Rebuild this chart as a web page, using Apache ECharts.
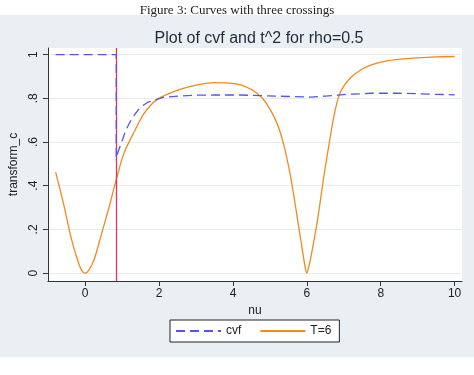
<!DOCTYPE html>
<html>
<head>
<meta charset="utf-8">
<script src="https://cdn.jsdelivr.net/npm/echarts@6/dist/echarts.min.js"></script>
<style>html,body{margin:0;padding:0;background:#fff}#c{width:474px;height:375px}</style>
</head>
<body>
<div id="c"></div>
<script>
const xTicks = [0, 2, 4, 6, 8, 10];
const yTicks = [0, 0.2, 0.4, 0.6, 0.8, 1];
const cutoffNu = 0.84;

const nuT6 = [-0.8, -0.57, -0.39, -0.21, -0.1, 0, 0.1, 0.24, 0.42, 0.65, 0.84, 1.05, 1.33, 1.6, 1.96, 2.59, 3.0, 3.5, 4.21, 4.75, 5.11, 5.34, 5.56, 5.75, 5.92, 5.96, 6.0, 6.05, 6.1, 6.29, 6.46, 6.65, 6.76, 6.87, 7.0, 7.19, 7.28, 7.5, 7.73, 8.1, 8.54, 9.0, 9.5, 10.0];
const valT6 = [0.462, 0.305, 0.167, 0.061, 0.014, 0.0, 0.014, 0.061, 0.167, 0.305, 0.428, 0.549, 0.648, 0.732, 0.796, 0.842, 0.86, 0.872, 0.861, 0.808, 0.716, 0.61, 0.442, 0.244, 0.061, 0.022, 0.0, 0.028, 0.065, 0.244, 0.442, 0.64, 0.74, 0.812, 0.856, 0.895, 0.908, 0.934, 0.952, 0.969, 0.979, 0.985, 0.989, 0.991];

const nuCvf = [-0.8, 0.84, 0.84, 0.9, 1.01, 1.1, 1.24, 1.35, 1.51, 1.7, 1.96, 2.14, 2.59, 3.0, 3.5, 4.21, 4.75, 5.56, 6.1, 6.5, 7.0, 7.73, 8.5, 9.0, 9.5, 10.0];
const valCvf = [1, 1, 0.526, 0.56, 0.61, 0.655, 0.70, 0.728, 0.762, 0.782, 0.796, 0.805, 0.811, 0.814, 0.815, 0.815, 0.812, 0.808, 0.805, 0.81, 0.817, 0.823, 0.823, 0.821, 0.818, 0.816];

const chart = echarts.init(document.getElementById('c'), null, {renderer: 'canvas'});
const FONT = 'Liberation Sans, Arial, sans-serif';
const fmt = v => {
  if (v === 0) return '0';
  if (v === 1) return '1';
  return String(+v.toFixed(1)).replace(/^0/, '');
};
chart.setOption({
  backgroundColor: '#ffffff',
  animation: false,
  graphic: [{
    type: 'rect', z: -10, silent: true,
    shape: {x: 0, y: 15, width: 474, height: 342},
    style: {fill: '#e9eff2'}
  }],
  title: [{
    text: 'Figure 3: Curves with three crossings',
    left: 'center', top: -1,
    textStyle: {fontFamily: 'Liberation Serif, DejaVu Serif, serif', fontSize: 13, fontWeight: 'normal', color: '#222'}
  }, {
    text: 'Plot of cvf and t^2 for rho=0.5',
    left: 254, textAlign: 'center', top: 26,
    textStyle: {fontFamily: FONT, fontSize: 16, fontWeight: 'normal', color: '#1c2a3a'}
  }],
  legend: {
    left: 170, top: 320,
    width: 168,
    padding: [5, 8, 5, 5],
    backgroundColor: '#ffffff',
    borderColor: '#222', borderWidth: 1,
    itemWidth: 45, itemHeight: 2, itemGap: 18,
    itemStyle: {opacity: 0},
    textStyle: {fontFamily: FONT, fontSize: 12, color: '#222'},
    data: ['cvf', 'T=6']
  },
  grid: {
    left: 47, right: 12, top: 48, bottom: 94,
    show: true, backgroundColor: '#ffffff', borderWidth: 0
  },
  xAxis: {
    type: 'value', min: -1.01, max: 10.2,
    name: 'nu', nameLocation: 'middle', nameGap: 22,
    nameTextStyle: {fontFamily: FONT, fontSize: 12, color: '#222'},
    axisLine: {show: true, onZero: false, lineStyle: {color: '#333', width: 1}},
    axisTick: {show: true, length: 5, customValues: xTicks, lineStyle: {color: '#333'}},
    axisLabel: {customValues: xTicks, fontFamily: FONT, fontSize: 12, color: '#222', margin: 7},
    splitLine: {show: false}
  },
  yAxis: {
    type: 'value', min: -0.036, max: 1.03,
    name: 'transform_c', nameLocation: 'middle', nameGap: 22,
    nameTextStyle: {fontFamily: FONT, fontSize: 12, color: '#222'},
    axisLine: {show: true, onZero: false, lineStyle: {color: '#333', width: 1}},
    axisTick: {show: true, length: 5, customValues: yTicks, lineStyle: {color: '#333'}},
    axisLabel: {customValues: yTicks, rotate: 90, fontFamily: FONT, fontSize: 12, color: '#222', margin: 8, formatter: fmt},
    splitLine: {show: true, lineStyle: {color: '#e8ecef', width: 1}}
  },
  series: [{
    name: 'T=6', type: 'line', smooth: 0.3, showSymbol: false, symbol: 'none',
    data: nuT6.map((x, i) => [x, valT6[i]]),
    lineStyle: {color: '#f28a1e', width: 1.3},
    itemStyle: {color: '#f28a1e'},
    z: 2,
    markLine: {
      silent: true, symbol: 'none', label: {show: false},
      lineStyle: {color: '#dc3560', width: 1.3, type: 'solid'},
      data: [{xAxis: cutoffNu}]
    }
  }, {
    name: 'cvf', type: 'line', smooth: false, showSymbol: false, symbol: 'none',
    data: nuCvf.map((x, i) => [x, valCvf[i]]),
    lineStyle: {color: '#5555ee', width: 1.3, type: [9, 5]},
    itemStyle: {color: '#5555ee'},
    z: 5
  }]
});
</script>
</body>
</html>
